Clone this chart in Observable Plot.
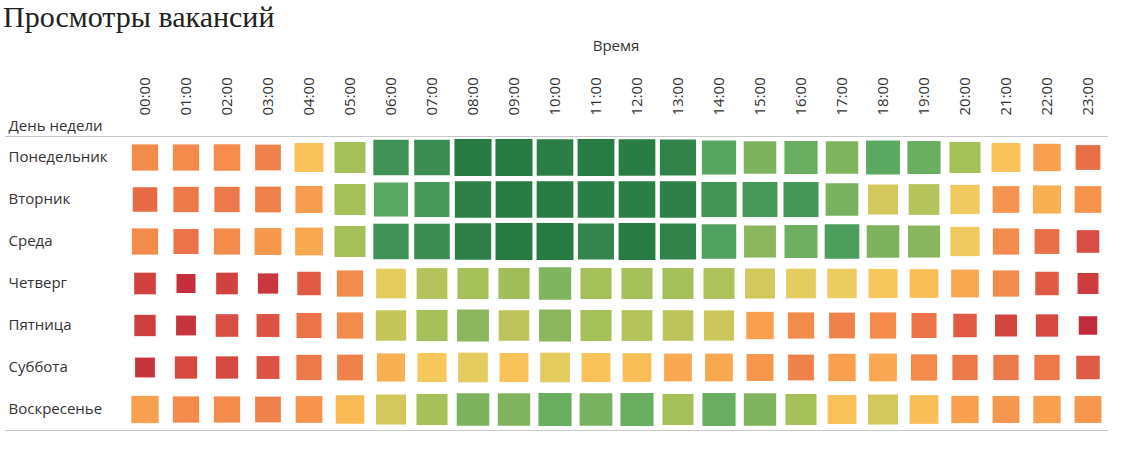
<!DOCTYPE html>
<html><head><meta charset="utf-8">
<script src="https://cdn.jsdelivr.net/npm/d3@7"></script>
<script src="https://cdn.jsdelivr.net/npm/@observablehq/plot@0.6"></script>
<style>
body{margin:0;background:#fff;}
#title{font-family:"Liberation Serif","Times New Roman",serif;font-size:30px;color:#222;height:36px;line-height:33px;padding-left:3px;white-space:nowrap;overflow:hidden;}
#chart svg{display:block;}
</style>
</head><body>
<div id="title">Просмотры вакансий</div>
<div id="chart"></div>
<script>
const days = ["Понедельник","Вторник","Среда","Четверг","Пятница","Суббота","Воскресенье"];
const hours = ["00:00","01:00","02:00","03:00","04:00","05:00","06:00","07:00","08:00","09:00","10:00","11:00","12:00","13:00","14:00","15:00","16:00","17:00","18:00","19:00","20:00","21:00","22:00","23:00"];
// relative views index (0–100) per day and hour
const mon = [32,32,33,30,45,57,85,87,98,98,94,96,95,91,77,66,70,65,75,70,57,45,37,26];
const tue = [25,28,28,30,36,57,76,82,92,95,95,94,94,92,84,82,83,67,51,55,47,34,41,34];
const wed = [32,27,32,35,39,57,85,87,92,97,97,90,96,91,79,62,69,80,66,63,47,32,26,18];
const thu = [15,8,15,11,21,32,49,55,57,58,65,57,57,57,56,51,49,48,46,44,39,32,21,13];
const fri = [14,10,18,19,27,32,53,57,62,54,62,57,55,54,52,37,32,30,32,27,21,16,17,7];
const sat = [10,17,17,19,28,30,41,46,49,45,49,45,44,39,39,35,30,37,39,32,28,28,28,21];
const sun = [37,32,32,30,34,43,51,57,66,65,70,67,70,57,70,65,57,45,51,44,37,35,37,35];

const series = [mon,tue,wed,thu,fri,sat,sun];
const data = [];
days.forEach((d,i)=>hours.forEach((h,j)=>data.push({day:d,hour:h,value:series[i][j]})));

const W = 1131, H = 419;
const txt = "#333";
const font = "'Open Sans', sans-serif";

const plot = Plot.plot({
  width: W, height: H,
  marginTop: 100, marginBottom: 25, marginLeft: 123, marginRight: 23,
  style: {fontFamily: font, background: "#fff"},
  x: {type: "band", domain: hours, padding: 0, axis: null},
  y: {type: "band", domain: days, padding: 0, axis: null},
  r: {type: "pow", exponent: 0.5, domain: [0,100], range: [6.63, 21.07]},
  color: {
    type: "linear", clamp: true,
    domain: [5,15,21,27,32,37,41,45,48,51,55,57,62,66,70,76,82,88,92,97],
    range: ["#be263c","#d1413f","#e15a46","#eb7349","#f48a4b","#f9a050","#f9b052","#f9c35a","#ecce60","#d3c85c","#b4c35a","#a6c05a","#8cb65e","#7db35f","#6aae62","#59a863","#47995a","#3a8a51","#2e8048","#267a42"]
  },
  marks: [
    Plot.dot(data, {x: "hour", y: "day", r: "value", fill: "value", symbol: "square", stroke: null}),
    Plot.text(days, {y: d=>d, text: d=>d, frameAnchor: "left", textAnchor: "start", lineAnchor: "middle", dx: -115, fontSize: 15, fill: txt}),
    Plot.text(hours, {x: d=>d, text: d=>d, frameAnchor: "top", rotate: -90, textAnchor: "start", lineAnchor: "middle", dy: -21, fontSize: 15, fill: txt}),
    Plot.text(["Время"], {text: d=>d, frameAnchor: "top", lineAnchor: "middle", dy: -90, fontSize: 15, fill: txt}),
    Plot.text(["День недели"], {text: d=>d, frameAnchor: "top-left", textAnchor: "start", lineAnchor: "middle", dx: -115, dy: -10, fontSize: 15, fill: txt})
  ]
});

const svg = d3.select(plot);
const yr = plot.scale("y").range;
[yr[0], yr[1]].forEach(yy => {
  svg.append("line").attr("x1", 5).attr("x2", W - 23).attr("y1", yy + 0.5).attr("y2", yy + 0.5)
    .attr("stroke", "#c8c8c8").attr("stroke-width", 1);
});
document.getElementById("chart").appendChild(plot);
</script>
</body></html>
